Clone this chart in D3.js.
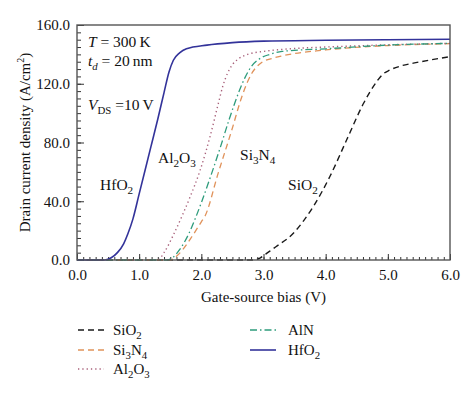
<!DOCTYPE html>
<html><head><meta charset="utf-8">
<script src="https://cdn.jsdelivr.net/npm/d3@7"></script>
<style>
body{margin:0;background:#fff;}
svg{font-family:"Liberation Serif","Times New Roman",serif;}
</style></head>
<body><svg id="c" width="474" height="395"></svg>
<script>
// ---- data ----
const xTicks = [0,1,2,3,4,5,6];
const yTicks = [0,40,80,120,160];
const seriesNames = ["SiO2","Si3N4","Al2O3","AlN","HfO2"];
const sio2 = [[0,0],[2.83,0],[2.95,1.5],[3.05,4.5],[3.2,9],[3.48,18.2],[3.65,27],[3.8,36.3],[4.07,57],[4.34,82],[4.61,106.7],[4.72,115],[4.82,121.4],[4.92,126.5],[5.03,129.3],[5.2,132],[5.41,134],[5.7,136.3],[6,138.5]];
const si3n4 = [[0,0],[1.5,0],[1.6,2.5],[1.7,7],[1.85,16],[2.0,26],[2.06,30],[2.27,59],[2.49,88.5],[2.65,111],[2.74,121],[2.81,127],[2.9,132],[2.97,134.5],[3.16,137.5],[3.3,139],[4,143],[5,146],[6,147.3]];
const al2o3 = [[0,0],[1.3,0],[1.4,5],[1.55,17],[1.7,31],[1.82,43],[1.98,61],[2.14,84],[2.27,106],[2.35,119],[2.42,127],[2.5,133],[2.6,137],[2.76,140.2],[3.0,142],[3.5,144],[4,145],[5,146.5],[6,147.5]];
const aln = [[0,0],[1.45,0],[1.55,2],[1.65,7],[1.8,18],[1.9,28],[2.0,39],[2.15,57],[2.3,76],[2.45,96],[2.6,114],[2.7,124],[2.8,131.5],[2.92,136.5],[3.1,140],[3.3,142],[4,143.8],[5,146.3],[6,147.5]];
const hfo2 = [[0,0],[0.45,0],[0.55,1.5],[0.65,5],[0.75,11],[0.82,18],[0.9,28],[1.0,45],[1.1,62],[1.2,79],[1.3,96],[1.4,114],[1.48,128],[1.55,136],[1.65,141],[1.76,143.8],[2.09,146.3],[2.5,148],[3,149],[4,149.6],[5,150],[6,150.3]];

const svg = d3.select("#c");
const L=77,R=450,T=25,B=260;
const x = d3.scaleLinear().domain([0,6]).range([L,R]);
const y = d3.scaleLinear().domain([0,160]).range([B,T]);

const styles = {
  SiO2:{data:sio2,color:"#1a1a1a",dash:"6,4",w:1.4},
  Si3N4:{data:si3n4,color:"#e0925a",dash:"6,4",w:1.3},
  Al2O3:{data:al2o3,color:"#a8607a",dash:"1.3,3",w:1.4},
  AlN:{data:aln,color:"#2e9c7c",dash:"7,3,1.5,3",w:1.3},
  HfO2:{data:hfo2,color:"#33339a",dash:null,w:1.6}
};

// axes
const minorX = d3.range(0,6.001,0.1).map(v=>+v.toFixed(2));
const minorY = d3.range(0,160.001,5);
svg.append("g").attr("transform",`translate(0,${B})`)
  .call(d3.axisBottom(x).tickValues(minorX).tickSize(-3).tickFormat(""))
  .call(g=>g.select(".domain").remove())
  .call(g=>g.selectAll("line").attr("stroke","#333"));
svg.append("g").attr("transform",`translate(${L},0)`)
  .call(d3.axisLeft(y).tickValues(minorY).tickSize(-4).tickFormat(""))
  .call(g=>g.select(".domain").remove())
  .call(g=>g.selectAll("line").attr("stroke","#333"));
svg.append("g").attr("transform",`translate(0,${B})`)
  .call(d3.axisBottom(x).tickValues(xTicks).tickSize(-6).tickPadding(9).tickFormat(d3.format(".1f")))
  .call(g=>g.select(".domain").remove())
  .call(g=>g.selectAll("line").attr("stroke","#333"))
  .call(g=>g.selectAll("text").attr("font-size",15).attr("fill","#111").attr("font-family","Liberation Serif, serif"));
svg.append("g").attr("transform",`translate(${L},0)`)
  .call(d3.axisLeft(y).tickValues(yTicks).tickSize(-7).tickPadding(7).tickFormat(d3.format(".1f")))
  .call(g=>g.select(".domain").remove())
  .call(g=>g.selectAll("line").attr("stroke","#333"))
  .call(g=>g.selectAll("text").attr("font-size",15).attr("fill","#111").attr("font-family","Liberation Serif, serif"));

// curves
const line = d3.line().x(d=>x(d[0])).y(d=>y(d[1])).curve(d3.curveMonotoneX);
seriesNames.forEach(n=>{
  const s=styles[n];
  svg.append("path").datum(s.data).attr("d",line).attr("fill","none")
    .attr("stroke",s.color).attr("stroke-width",s.w)
    .attr("stroke-dasharray",s.dash);
});

// frame
svg.append("rect").attr("x",L).attr("y",T).attr("width",R-L).attr("height",B-T)
  .attr("fill","none").attr("stroke","#555").attr("stroke-width",1.4);

function label(xp,yp,parts,size){
  const t=svg.append("text").attr("x",xp).attr("y",yp).attr("font-size",size).attr("fill","#111");
  parts.forEach(p=>{
    const ts=t.append("tspan").text(p.t);
    if(p.i) ts.attr("font-style","italic");
    if(p.sub){ts.attr("font-size",size*0.7).attr("dy",4);}
    if(p.up){ts.attr("dy",-4);}
  });
  return t;
}
function chem(xp,yp,str,size){
  const parts=[];let prevSub=false;
  for(const ch of str){
    const isNum=/[0-9]/.test(ch);
    const p={t:ch};
    if(isNum&&!prevSub){p.sub=true;}
    if(!isNum&&prevSub){p.up=true;}
    parts.push(p);prevSub=isNum;
  }
  const t=svg.append("text").attr("x",xp).attr("y",yp).attr("font-size",size).attr("fill","#111");
  parts.forEach(p=>{
    const ts=t.append("tspan").text(p.t);
    if(/[0-9]/.test(p.t)) ts.attr("font-size",size*0.72);
    if(p.sub) ts.attr("dy",4);
    if(p.up) ts.attr("dy",-4);
  });
}

label(88,47,[{t:"T",i:true},{t:" = 300\u2009K"}],15.5);
label(88,66,[{t:"t",i:true},{t:"d",i:true,sub:true},{t:" = 20\u2009nm",up:true}],15.5);
label(88,110,[{t:"V",i:true},{t:"DS",sub:true},{t:" =10\u2009V",up:true}],15.5);

chem(158,163,"Al2O3",15.5);
chem(100,190,"HfO2",15.5);
chem(240,160,"Si3N4",15.5);
chem(288,190,"SiO2",15.5);

// axis titles
svg.append("text").attr("x",(L+R)/2).attr("y",302).attr("text-anchor","middle")
  .attr("font-size",15).attr("fill","#111").text("Gate-source bias (V)");
const yt=svg.append("text").attr("transform",`translate(30,${(T+B)/2}) rotate(-90)`)
  .attr("text-anchor","middle").attr("font-size",15).attr("fill","#111");
yt.append("tspan").text("Drain current density (A/cm");
yt.append("tspan").text("2").attr("font-size",10).attr("dy",-6);
yt.append("tspan").text(")").attr("dy",6);

// legend
const legPos = {
  SiO2:[78,330], Si3N4:[78,350], Al2O3:[78,369], AlN:[250,330], HfO2:[250,350]
};
seriesNames.forEach(n=>{
  const s=styles[n], p=legPos[n];
  svg.append("line").attr("x1",p[0]).attr("x2",p[0]+26).attr("y1",p[1]).attr("y2",p[1])
    .attr("stroke",s.color).attr("stroke-width",s.w).attr("stroke-dasharray",s.dash);
  if(n==="AlN"){
    svg.append("text").attr("x",p[0]+38).attr("y",p[1]+5).attr("font-size",15).attr("fill","#111").text("AlN");
  } else {
    chem(p[0]+(n==="HfO2"?38:35),p[1]+5,n,15);
  }
});
</script></body></html>
